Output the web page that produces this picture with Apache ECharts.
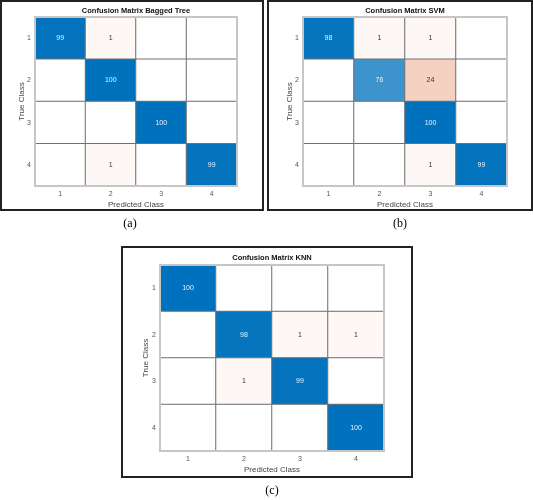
<!DOCTYPE html>
<html><head><meta charset="utf-8">
<script src="https://cdn.jsdelivr.net/npm/echarts@6/dist/echarts.min.js"></script>
<style>html,body{margin:0;padding:0;background:#fff}#c{width:533px;height:500px}</style>
</head><body><div id="c"></div>
<script>
const classes = ['1', '2', '3', '4'];
const titles = ['Confusion Matrix Bagged Tree', 'Confusion Matrix SVM', 'Confusion Matrix KNN'];
const panelLabels = ['(a)', '(b)', '(c)'];
const baggedTree = [[99, 1, 0, 0], [0, 100, 0, 0], [0, 0, 100, 0], [0, 1, 0, 99]];
const svm = [[98, 1, 1, 0], [0, 76, 24, 0], [0, 0, 100, 0], [0, 0, 1, 99]];
const knn = [[100, 0, 0, 0], [0, 98, 1, 1], [0, 1, 99, 0], [0, 0, 0, 100]];
const matrices = [baggedTree, svm, knn];

const layout = [
  { grid: { left: 35, top: 17, width: 202, height: 169 }, frame: [1, 1, 262, 209], label: [130, 224], yName: 22, title: 11 },
  { grid: { left: 303, top: 17, width: 204, height: 169 }, frame: [268, 1, 264, 209], label: [400, 224], yName: 290, title: 11 },
  { grid: { left: 160, top: 265, width: 224, height: 186 }, frame: [122, 247, 290, 230], label: [272, 491], yName: 146, title: 258 }
];

function mix(c, t) {
  return 'rgb(' + c.map(v => Math.round(255 - t * (255 - v))).join(',') + ')';
}
function cell(i, j, v) {
  let color = '#ffffff', text = '#333333';
  if (v > 0) {
    if (i === j) { color = mix([0, 114, 189], v / 100); text = '#e8f1fa'; }
    else { color = mix([217, 83, 25], Math.min(1, 0.03 + v / 100)); text = '#333333'; }
  }
  return { value: [j, i, v], itemStyle: { color }, label: { color: text } };
}

const grids = [], xAxes = [], yAxes = [], series = [], graphics = [];
matrices.forEach((m, k) => {
  const L = layout[k];
  grids.push(Object.assign({ show: true, borderColor: '#c6c6c6', borderWidth: 2, z: 10, backgroundColor: 'transparent' }, L.grid));
  xAxes.push({
    type: 'category', data: classes, gridIndex: k,
    name: 'Predicted Class', nameLocation: 'middle', nameGap: 15,
    nameTextStyle: { fontSize: 8, color: '#444', fontFamily: 'Liberation Sans' },
    axisLine: { show: false }, axisTick: { show: false }, splitLine: { show: false },
    axisLabel: { fontSize: 7, color: '#555', margin: 5, fontFamily: 'Liberation Sans' }
  });
  yAxes.push({
    type: 'category', data: classes, gridIndex: k, inverse: true,
    axisLine: { show: false }, axisTick: { show: false }, splitLine: { show: false },
    axisLabel: { fontSize: 7, color: '#555', margin: 4, fontFamily: 'Liberation Sans' }
  });
  const data = [];
  m.forEach((row, i) => row.forEach((v, j) => data.push(cell(i, j, v))));
  series.push({
    type: 'heatmap', xAxisIndex: k, yAxisIndex: k, data,
    itemStyle: { borderColor: '#707070', borderWidth: 1 },
    label: { show: true, fontSize: 7, fontFamily: 'Liberation Sans', formatter: p => p.value[2] ? String(p.value[2]) : '' },
    emphasis: { disabled: true }
  });
  const f = L.frame;
  graphics.push({ type: 'rect', shape: { x: f[0], y: f[1], width: f[2], height: f[3] }, style: { fill: 'none', stroke: '#222', lineWidth: 2 }, silent: true });
  graphics.push({ type: 'text', x: L.grid.left + L.grid.width / 2, y: L.title, style: { text: titles[k], fontSize: 7.5, fontWeight: 'bold', fill: '#111', fontFamily: 'Liberation Sans', align: 'center', verticalAlign: 'middle' } });
  graphics.push({ type: 'text', x: L.yName, y: L.grid.top + L.grid.height / 2, rotation: Math.PI / 2, style: { text: 'True Class', fontSize: 8, fill: '#444', fontFamily: 'Liberation Sans', align: 'center', verticalAlign: 'middle' } });
  graphics.push({ type: 'text', x: L.label[0], y: L.label[1], style: { text: panelLabels[k], fontSize: 12, fill: '#000', fontFamily: 'Liberation Serif', align: 'center', verticalAlign: 'middle' } });
});

const chart = echarts.init(document.getElementById('c'), null, { renderer: 'canvas' });
chart.setOption({
  animation: false,
  grid: grids, xAxis: xAxes, yAxis: yAxes, series,
  graphic: graphics
});
</script></body></html>
